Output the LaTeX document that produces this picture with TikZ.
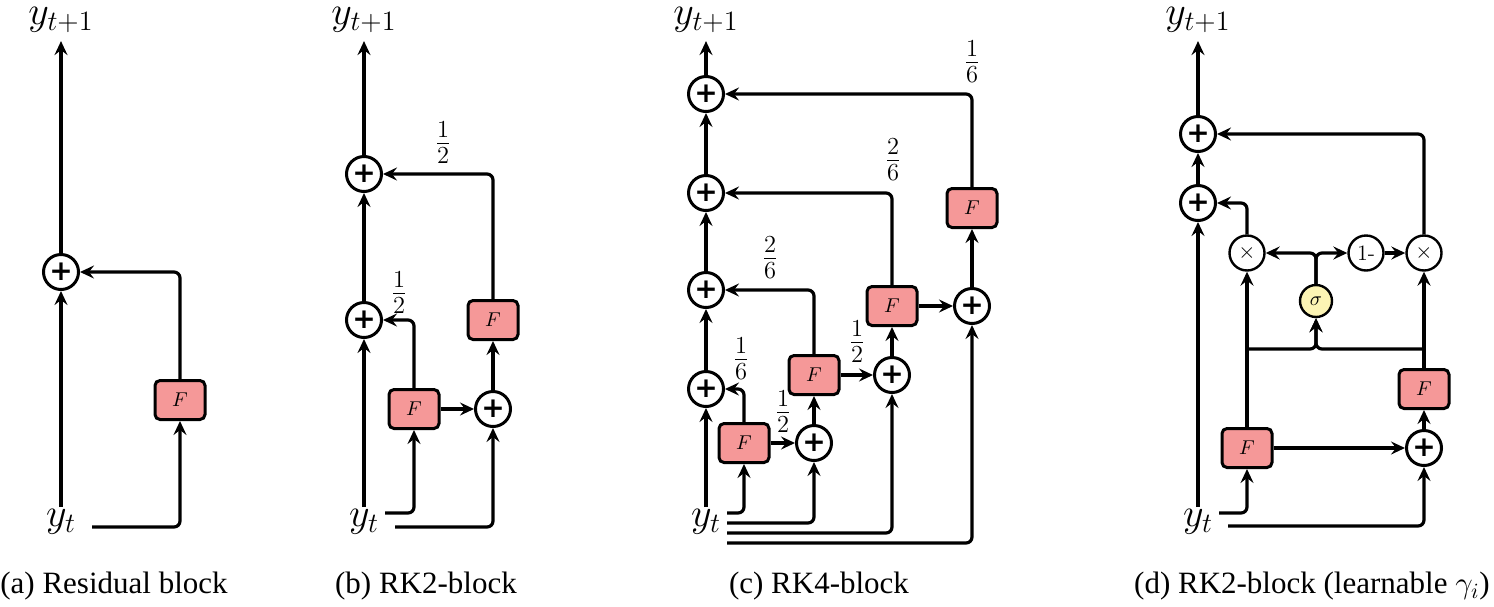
\RequirePackage{fix-cm}
\documentclass[tikz,border=0pt]{standalone}
\usepackage[no-math]{fontspec}
\newfontfamily\capfont{Liberation Serif}
\newfontfamily\plusfont{DejaVu Sans}
\usetikzlibrary{arrows.meta}
\definecolor{fpink}{RGB}{245,152,152}
\definecolor{sigyellow}{RGB}{252,244,180}

\begin{document}
\begin{tikzpicture}[
    x=0.5pt, y=-0.5pt,
    % Сумматор: круг с плюсом
    sum/.style={circle, draw, line width=1.5pt, minimum size=17.5pt, inner sep=0pt, font=\plusfont\bfseries\fontsize{14}{14}\selectfont},
    % Блок F: розовый прямоугольник со скруглением
    func/.style={draw, fill=fpink, rounded corners=2.5pt, line width=1.5pt, minimum width=25pt, minimum height=19.5pt, inner sep=0pt, font=\fontsize{10}{12}\selectfont},
    % Умножение и 1-
    mult/.style={circle, draw, line width=1.2pt, minimum size=17.5pt, inner sep=0pt, font=\fontsize{11}{12}\selectfont},
    % Сигмоида
    gate/.style={circle, draw, fill=sigyellow, line width=1.2pt, minimum size=16pt, inner sep=0pt, font=\fontsize{10}{12}\selectfont},
    % Подписи y_t, y_{t+1} и коэффициенты
    var/.style={inner sep=1pt, font=\fontsize{20}{22}\selectfont},
    coef/.style={inner sep=1pt, font=\fontsize{17.5}{18}\selectfont},
    caption/.style={font=\capfont\fontsize{15.5}{18}\selectfont},
    % Стрелки
    edge/.style={line width=1.6pt, rounded corners=3pt, -{Stealth[length=7pt, width=6.5pt, inset=2.5pt]}}
]
    \useasboundingbox (0,0) rectangle (1494,606);

    % --- (a) Residual block ---
    \node[var] (yna) at (61,20) {$y_{t+1}$};
    \node[var] (yta) at (61,522) {$y_t$};
    \node[sum] (sa) at (61,272) {+};
    \node[func] (fa) at (180,400) {$F$};
    \coordinate (ta1) at (92,527);

    \draw[edge] (yta) -- (sa);
    \draw[edge, shorten >=3pt] (sa) -- (yna);
    \draw[edge] (ta1) -| (fa);
    \draw[edge] (fa) |- (sa);

    % --- (b) RK2-block ---
    \node[var] (ynb) at (364,20) {$y_{t+1}$};
    \node[var] (ytb) at (364,522) {$y_t$};
    \node[sum] (sb1) at (364,320) {+};
    \node[sum] (sb2) at (364,174) {+};
    \node[func] (fb1) at (414,409) {$F$};
    \node[sum] (pb) at (493,409) {+};
    \node[func] (fb2) at (493,320) {$F$};
    \node[coef] (wb1) at (399,293) {$\frac{1}{2}$};
    \node[coef] (wb2) at (443,143) {$\frac{1}{2}$};
    \coordinate (tb1) at (385,513);
    \coordinate (tb2) at (395,527);

    \draw[edge] (ytb) -- (sb1);
    \draw[edge] (sb1) -- (sb2);
    \draw[edge, shorten >=3pt] (sb2) -- (ynb);
    \draw[edge] (tb1) -| (fb1);
    \draw[edge] (tb2) -| (pb);
    \draw[edge] (fb1) |- (sb1);
    \draw[edge] (fb1) -- (pb);
    \draw[edge] (pb) -- (fb2);
    \draw[edge] (fb2) |- (sb2);

    % --- (c) RK4-block ---
    \node[var] (ync) at (706,20) {$y_{t+1}$};
    \node[var] (ytc) at (706,522) {$y_t$};
    \node[sum] (sc1) at (706,94) {+};
    \node[sum] (sc2) at (706,193) {+};
    \node[sum] (sc3) at (706,290) {+};
    \node[sum] (sc4) at (706,389) {+};
    \node[func] (fc1) at (744,443) {$F$};
    \node[sum] (pc1) at (814,443) {+};
    \node[func] (fc2) at (814,375) {$F$};
    \node[sum] (pc2) at (892,375) {+};
    \node[func] (fc3) at (892,306) {$F$};
    \node[sum] (pc3) at (972,306) {+};
    \node[func] (fc4) at (972,208) {$F$};
    \node[coef] (wc1) at (741,359) {$\frac{1}{6}$};
    \node[coef] (wc2) at (783,412) {$\frac{1}{2}$};
    \node[coef] (wc3) at (857,342) {$\frac{1}{2}$};
    \node[coef] (wc4) at (770,258) {$\frac{2}{6}$};
    \node[coef] (wc5) at (893,160) {$\frac{2}{6}$};
    \node[coef] (wc6) at (972,62) {$\frac{1}{6}$};
    \coordinate (tc1) at (727,513);
    \coordinate (tc2) at (727,523);
    \coordinate (tc3) at (727,533);
    \coordinate (tc4) at (727,543);

    \draw[edge] (ytc) -- (sc4);
    \draw[edge] (sc4) -- (sc3);
    \draw[edge] (sc3) -- (sc2);
    \draw[edge] (sc2) -- (sc1);
    \draw[edge, shorten >=3pt] (sc1) -- (ync);
    \draw[edge] (tc1) -| (fc1);
    \draw[edge] (tc2) -| (pc1);
    \draw[edge] (tc3) -| (pc2);
    \draw[edge] (tc4) -| (pc3);
    \draw[edge] (fc1) |- (sc4);
    \draw[edge] (fc1) -- (pc1);
    \draw[edge] (pc1) -- (fc2);
    \draw[edge] (fc2) |- (sc3);
    \draw[edge] (fc2) -- (pc2);
    \draw[edge] (pc2) -- (fc3);
    \draw[edge] (fc3) |- (sc2);
    \draw[edge] (fc3) -- (pc3);
    \draw[edge] (pc3) -- (fc4);
    \draw[edge] (fc4) |- (sc1);

    % --- (d) RK2-block с обучаемым gamma ---
    \node[var] (ynd) at (1198,20) {$y_{t+1}$};
    \node[var] (ytd) at (1198,522) {$y_t$};
    \node[sum] (sd1) at (1198,134) {+};
    \node[sum] (sd2) at (1198,203) {+};
    \node[mult] (md1) at (1247,253) {$\times$};
    \node[mult] (om) at (1366,253) {1-};
    \node[mult] (md2) at (1424,253) {$\times$};
    \node[gate] (sg) at (1316,301) {$\sigma$};
    \node[func] (fd1) at (1247,448) {$F$};
    \node[sum] (pd) at (1424,448) {+};
    \node[func] (fd2) at (1424,389) {$F$};
    \coordinate (td1) at (1219,513);
    \coordinate (td2) at (1228,526);
    \coordinate (jd1) at (1247,349);
    \coordinate (jd2) at (1424,349);

    \draw[edge] (ytd) -- (sd2);
    \draw[edge] (sd2) -- (sd1);
    \draw[edge, shorten >=3pt] (sd1) -- (ynd);
    \draw[edge] (td1) -| (fd1);
    \draw[edge] (td2) -| (pd);
    \draw[edge] (fd1) -- (pd);
    \draw[edge] (pd) -- (fd2);
    \draw[edge] (fd1) -- (md1);
    \draw[edge] (fd2) -- (md2);
    \draw[edge] (jd1) -| (sg);
    \draw[edge] (jd2) -| (sg);
    \draw[edge] (sg) |- (md1);
    \draw[edge] (sg) |- (om);
    \draw[edge] (om) -- (md2);
    \draw[edge] (md1) |- (sd2);
    \draw[edge] (md2) |- (sd1);

    % --- Подписи ---
    \node[caption] (capa) at (114,586) {(a) Residual block};
    \node[caption] (capb) at (426,586) {(b) RK2-block};
    \node[caption] (capc) at (819,586) {(c) RK4-block};
    \node[caption] (capd) at (1312,586) {(d) RK2-block (learnable $\gamma_i$)};

\end{tikzpicture}
\end{document}
